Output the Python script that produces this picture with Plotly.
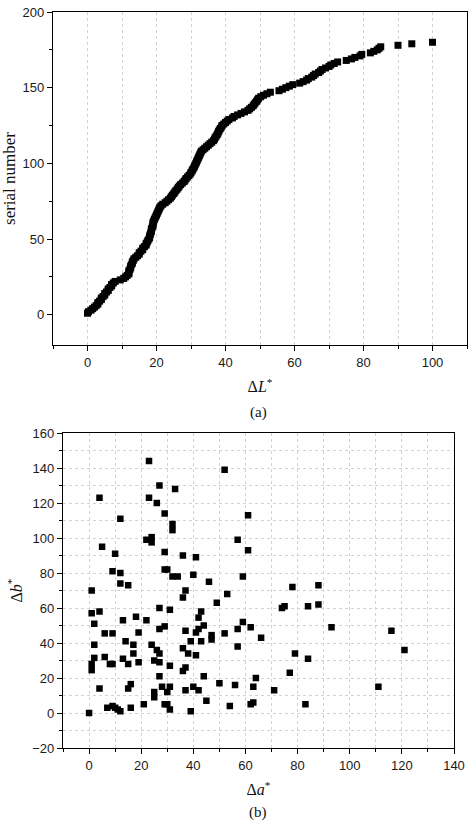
import plotly.graph_objects as go

# ---- (a) cumulative: serial number vs ΔL* ----
dL = [0, 0.3, 1, 1.5, 2, 2.5, 3, 3, 3.5, 4, 4, 4.5, 5, 5, 5.5, 6, 6, 6.5, 7, 7,
      7.5, 8, 9.5, 10.5, 11, 11.5, 12, 12, 12, 12.3, 12.5, 12.5, 12.7, 13, 13, 13.3, 13.5, 14, 14.5, 15,
      15, 15.5, 16, 16, 16.5, 17, 17, 17.3, 17.5, 17.8, 18, 18, 18.2, 18.3, 18.5, 18.5, 18.6, 18.8, 19, 19,
      19, 19.2, 19.4, 19.6, 19.8, 20, 20.2, 20.4, 20.6, 20.8, 21, 21.3, 21.8, 22.5, 23, 23.5, 24, 24.3, 24.6, 25,
      25.3, 25.6, 26, 26.3, 26.6, 27, 27.5, 28, 28.3, 28.6, 29, 29.4, 29.8, 30, 30.3, 30.5, 30.8, 31, 31.2, 31.4,
      31.6, 31.8, 32, 32.2, 32.4, 32.6, 32.8, 33, 33.5, 34, 34.5, 35, 35.5, 36, 36.5, 36.8, 37, 37.3, 37.6, 37.8,
      38, 38.2, 38.5, 38.8, 39, 39.5, 40, 40.5, 41, 42, 42.5, 43.5, 44.5, 45.5, 46.5, 47, 47.5, 48, 48.3, 48.6,
      49, 49.3, 49.6, 50.2, 51, 52, 53, 55.5, 56.5, 57.5, 58.5, 59.5, 61.5, 62.5, 63.5, 64, 65, 65.5, 66, 67,
      67.5, 68, 69, 70, 70.5, 71.5, 72.5, 75, 76.5, 77.5, 79, 79.5, 82, 83, 84, 84.5, 85, 90, 94, 100]
serial = list(range(1, len(dL) + 1))

# ---- (b) scatter: Δb* vs Δa* ----
da = [23, 52, 27, 33, 4, 23, 26, 29, 61, 12, 32, 32, 22, 24, 24, 57, 5, 61, 29, 10,
      36, 41, 9, 29, 30, 12, 32, 34, 40, 59, 46, 12, 15, 88, 78, 1, 37, 53, 36, 49,
      1, 4, 27, 31, 43, 74, 75, 84, 88, 13, 18, 22, 42, 2, 59, 62, 44, 42, 41, 37,
      27, 29, 6, 9, 19, 47, 47, 52, 57, 66, 93, 116, 2, 14, 17, 24, 39, 43, 57, 36,
      26, 27, 17, 38, 41, 79, 84, 121, 2, 6, 13, 25, 27, 1, 8, 9, 15, 19, 31, 1,
      36, 37, 77, 27, 44, 64, 50, 56, 16, 15, 4, 28, 31, 40, 42, 37, 30, 63, 71, 111,
      25, 25, 45, 63, 62, 83, 54, 21, 29, 30, 31, 16, 7, 9, 10, 11, 12, 39, 0]
db = [144, 139, 130, 128, 123, 123, 120, 114, 113, 111, 108, 104.5, 99, 100.5, 97.5, 99, 95, 93, 92, 91,
      90, 89, 81, 82, 82, 80, 78, 78, 79, 78, 75, 74, 73, 73, 72, 70, 70, 68, 66, 63,
      57, 58, 60, 59, 58, 60, 61, 61, 62, 53, 55, 53, 54.5, 51, 52, 49, 50, 48, 46, 47,
      48, 49.5, 45.5, 45.5, 46, 44.5, 42, 45.5, 48, 43, 49, 47, 39, 41, 39, 39, 41, 41, 38, 37,
      36, 34, 34, 34, 33, 34, 31, 36, 31.5, 32, 31, 30, 29, 28, 28, 28, 28, 29, 27, 24.5,
      24, 26, 23, 21, 21, 20, 17, 16, 16.5, 14, 14, 15, 15, 15, 13, 13, 12, 15, 13, 15,
      12, 9, 7, 6, 5, 5, 4, 5, 5, 5, 2, 3, 3, 4, 3, 2, 1, 1, 0]

W, H = 474, 821
tick_font = dict(family="Liberation Sans", size=13, color="#1a1a1a")
serif = "Liberation Serif"
GRID_C = "#d2d2d2"
grid = dict(showgrid=True, gridcolor=GRID_C, griddash="dot", gridwidth=1)


def px(x):
    return x / W


def py(y):
    return 1 - y / H


def minor(d, show_grid):
    return dict(dtick=d, tick0=0, ticks="outside", ticklen=3, tickcolor="black",
                showgrid=show_grid, gridcolor=GRID_C, griddash="dot", gridwidth=1)


def title(text, size, standoff):
    return dict(text=text, standoff=standoff,
                font=dict(family=serif, size=size, color="#111111"))


fig = go.Figure()
fig.add_trace(go.Scatter(x=dL, y=serial, mode="markers", xaxis="x", yaxis="y",
                         marker=dict(symbol="square", size=7, color="#000000"),
                         showlegend=False))
fig.add_trace(go.Scatter(x=da, y=db, mode="markers", xaxis="x2", yaxis="y2",
                         marker=dict(symbol="square", size=6.5, color="#000000"),
                         showlegend=False))

axis_common = dict(showline=True, linecolor="black", linewidth=1.4, mirror=True,
                   ticks="outside", ticklen=5, tickwidth=1.2, tickcolor="black",
                   zeroline=False, tickfont=tick_font, automargin=False,
                   ticklabeloverflow="allow")

fig.update_layout(
    width=W, height=H,
    font=dict(family=serif, size=15, color="#111111"),
    margin=dict(l=0, r=0, t=0, b=0),
    paper_bgcolor="white", plot_bgcolor="white",
    xaxis=dict(domain=[px(53), px(467)], anchor="y", range=[-10, 110], tick0=0, dtick=20,
               **grid, minor=minor(10, True),
               title=title("Δ<i>L</i><sup>*</sup>", 16, 12),
               **axis_common),
    yaxis=dict(domain=[py(345), py(12)], anchor="x", range=[-20, 200], tick0=0, dtick=50,
               showgrid=False, minor=minor(25, False),
               title=title("serial number", 17, 11),
               **axis_common),
    xaxis2=dict(domain=[px(63), px(454)], anchor="y2", range=[-10, 140], tick0=0, dtick=20,
                **grid, minor=minor(10, True),
                title=title("Δ<i>a</i><sup>*</sup>", 16, 12),
                **axis_common),
    yaxis2=dict(domain=[py(748), py(433)], anchor="x2", range=[-20, 160], tick0=0, dtick=20,
                **grid, minor=minor(10, True),
                title=title("Δ<i>b</i><sup>*</sup>", 16, 5),
                **axis_common),
)

for cap, yc in (("(a)", 412), ("(b)", 812)):
    fig.add_annotation(text=cap, x=px(258), y=py(yc), xref="paper", yref="paper",
                       showarrow=False, xanchor="center", yanchor="middle",
                       font=dict(family=serif, size=15, color="#111111"))

# remove the browser's default 8px body margin so the figure sits at the window's corner
fig.write_html("out.html", config={"displayModeBar": False},
               post_script="document.body.style.margin='0';")
